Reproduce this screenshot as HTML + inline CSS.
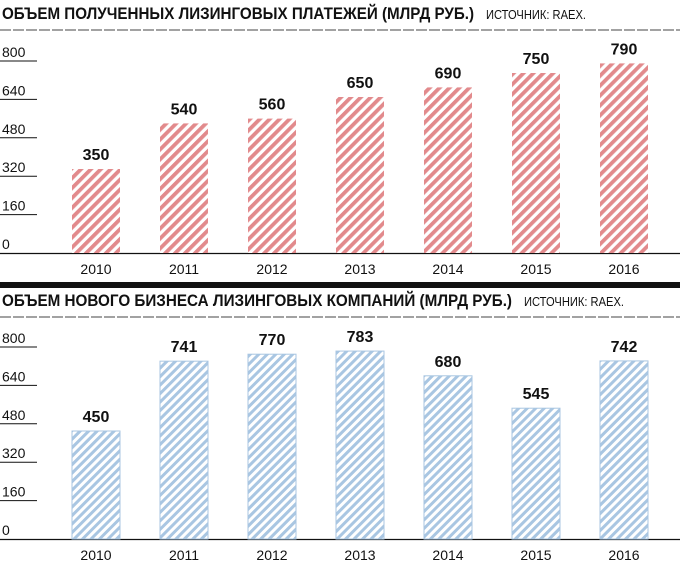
<!DOCTYPE html>
<html><head><meta charset="utf-8"><style>
html,body{margin:0;padding:0;background:#fff;width:680px;height:569px;overflow:hidden}
svg{display:block;font-family:"Liberation Sans Narrow","Liberation Sans",sans-serif}
</style></head><body>
<svg id="c" width="680" height="569" viewBox="0 0 680 569">
<defs>
<pattern id="hr" patternUnits="userSpaceOnUse" width="7" height="7" patternTransform="rotate(45)"><rect width="7" height="7" fill="#fff"/><rect x="0" y="0" width="3.8" height="7" fill="#e28a8c"/></pattern>
<pattern id="hb" patternUnits="userSpaceOnUse" width="6" height="6" patternTransform="rotate(45)"><rect width="6" height="6" fill="#fff"/><rect x="0" y="0" width="3" height="6" fill="#a9c6e2"/></pattern>
</defs>
</svg>
<script>
const years=["2010","2011","2012","2013","2014","2015","2016"];
const payments=[350,540,560,650,690,750,790];
const newBusiness=[450,741,770,783,680,545,742];
const ticks=[0,160,320,480,640,800];
const svg=document.getElementById('c');
const NS='http://www.w3.org/2000/svg';
function mk(t,a,txt){const e=document.createElementNS(NS,t);for(const k in a)e.setAttribute(k,a[k]);if(txt!=null)e.textContent=txt;svg.appendChild(e);return e;}
function chart(cfg){
  const base=cfg.base, k=0.24;
  const y=v=>base-v*k, x=i=>96+i*88;
  let t=mk('text',{x:2,y:cfg.ty,'font-size':17,'font-weight':'bold',fill:'#111',textLength:cfg.tw,lengthAdjust:'spacingAndGlyphs'},cfg.title);
  
  let s=mk('text',{x:cfg.sx,y:cfg.ty,'font-size':13,fill:'#111',textLength:100,lengthAdjust:'spacingAndGlyphs'},'ИСТОЧНИК: RAEX.');
  
  let d=mk('line',{x1:0,x2:680,y1:cfg.dy,y2:cfg.dy,stroke:'#444','stroke-width':1,'stroke-dasharray':'11 2'});
  
  ticks.forEach(v=>{
    if(v>0){let l=mk('line',{x1:0,x2:37,y1:y(v),y2:y(v),stroke:'#111','stroke-width':1});
      }
    let tl=mk('text',{x:2,y:y(v)-4,'font-size':14,fill:'#111'},String(v));
    
  });
  let bl=mk('line',{x1:0,x2:680,y1:base+0.5,y2:base+0.5,stroke:'#111','stroke-width':1.2});
  
  cfg.data.forEach((v,i)=>{
    let r=mk('rect',{x:x(i)-24,y:y(v),width:48,height:v*k,fill:cfg.fill,stroke:cfg.stroke,'stroke-width':1});
    
    let vl=mk('text',{x:x(i),y:y(v)-9,'font-size':16,'font-weight':'bold','text-anchor':'middle',fill:'#111'},String(v));
    
    let yl=mk('text',{x:x(i),y:base+21,'font-size':14,'text-anchor':'middle',fill:'#111'},years[i]);
    
  });
}
chart({title:'ОБЪЕМ ПОЛУЧЕННЫХ ЛИЗИНГОВЫХ ПЛАТЕЖЕЙ (МЛРД РУБ.)',tw:472,sx:486,ty:19,dy:30,base:253,data:payments,fill:'url(#hr)',stroke:'none'});
let sep=mk('rect',{x:0,y:282,width:680,height:6,fill:'#111'});


chart({title:'ОБЪЕМ НОВОГО БИЗНЕСА ЛИЗИНГОВЫХ КОМПАНИЙ (МЛРД РУБ.)',tw:510,sx:524,ty:306,dy:317,base:539,data:newBusiness,fill:'url(#hb)',stroke:'#a9c6e2'});
</script>
</body></html>
